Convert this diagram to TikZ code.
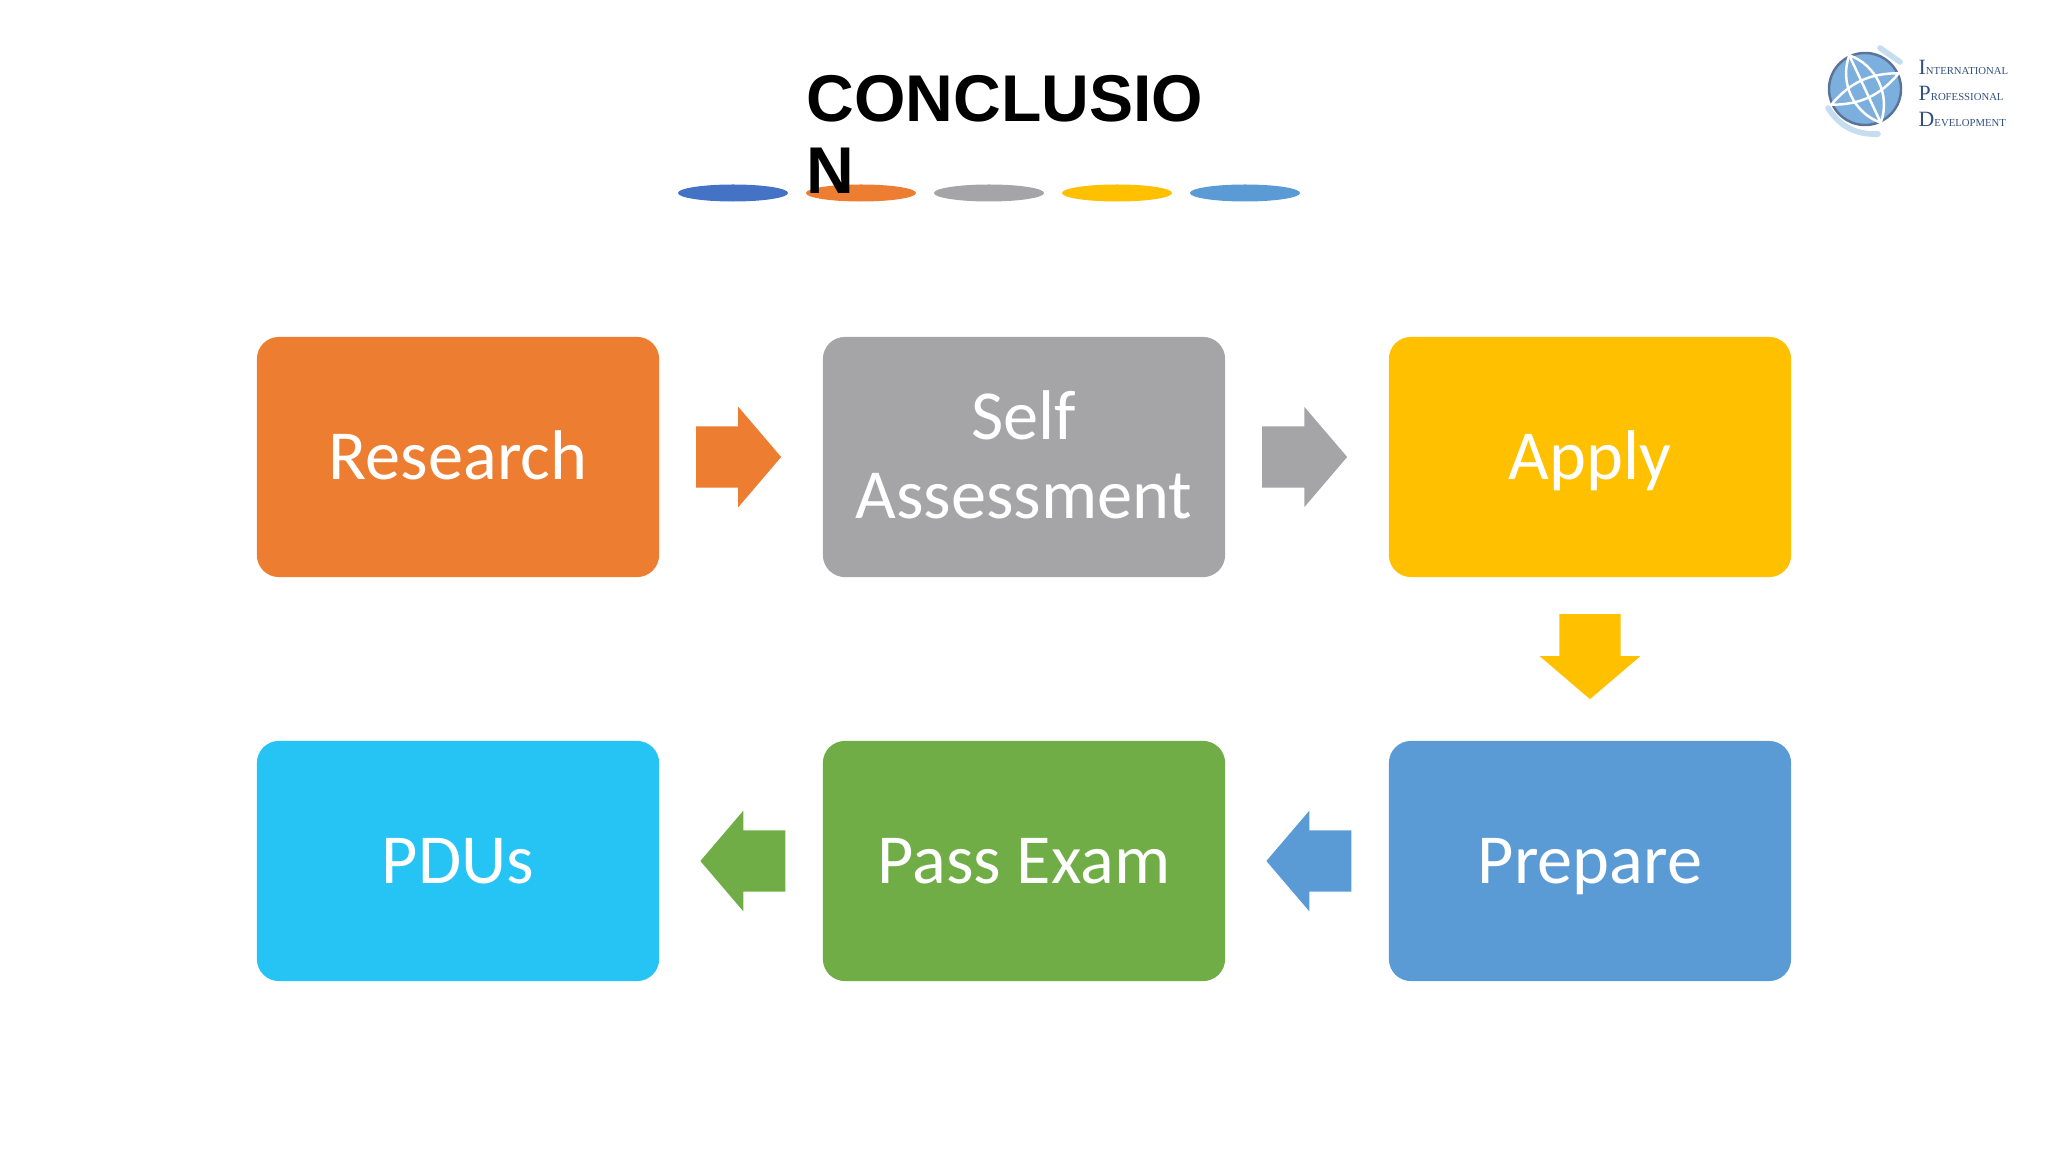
\documentclass[tikz,border=0pt]{standalone}
\usepackage{fontspec}
\setmainfont{Carlito}
\newfontfamily\titlefont{Liberation Sans}
\newfontfamily\logofont{Liberation Serif}
\usetikzlibrary{shapes.geometric,shapes.arrows}
\definecolor{cblue}{HTML}{4472C4}
\definecolor{corange}{HTML}{ED7D31}
\definecolor{cgray}{HTML}{A5A5A7}
\definecolor{cyellow}{HTML}{FFC000}
\definecolor{csky}{HTML}{5B9BD5}
\definecolor{cgreen}{HTML}{70AD47}
\definecolor{ccyan}{HTML}{25C4F5}
\definecolor{clogo}{HTML}{33507E}
\tikzset{
	stepbox/.style={rectangle,rounded corners=0.22cm,minimum width=4.02cm,minimum height=2.4cm,inner sep=0pt,text=white,align=center,text height=0.6cm,text depth=0.16cm,font=\fontsize{20}{22.2}\selectfont},
	blockarrow/.style={single arrow,minimum height=0.85cm,single arrow head extend=0.195cm,single arrow tip angle=99,single arrow head indent=0pt,inner xsep=0pt,inner ysep=0.3cm,outer sep=0pt},
	bar/.style={ellipse,minimum width=1.1cm,minimum height=0.17cm,inner sep=0pt},
	logoline/.style={anchor=base west,inner sep=0pt,text=clogo,font=\logofont\fontsize{3.05}{4}\selectfont},
	gridline/.style={white,line width=0.7pt},
	swoosh/.style={csky!35!white,line width=1.6pt},
}
\newcommand{\logocap}[1]{{\fontsize{6.2}{7}\selectfont #1}}
\begin{document}
\begin{tikzpicture}[x=0.01cm,y=-0.01cm, line join=round, line cap=round, >=stealth]
	\useasboundingbox (0,0) rectangle (2048,1152);
	% bars under the title
	\foreach \n/\x/\c in {1/733/cblue,2/861/corange,3/989/cgray,4/1117/cyellow,5/1245/csky}{
		\node[bar,fill=\c] (bar\n) at (\x,193) {};}
	\node[anchor=north west,inner sep=0pt,text width=4.3cm,align=left,font=\titlefont\bfseries\fontsize{18.8}{20.5}\selectfont] (title) at (806,75) {CONCLUSIO\\N};
	% logo
	\coordinate (swoosha) at (1828,108);
	\coordinate (swooshb) at (1878,134);
	\coordinate (swooshc) at (1900,62);
	\coordinate (swooshd) at (1880,48);
	\draw[swoosh] (swoosha) to[bend right=30] (swooshb);
	\draw[swoosh] (swooshc) -- (swooshd);
	\node[circle,minimum size=0.72cm,inner sep=0pt,rotate=25,fill=csky!80!white,draw=clogo!80!white,line width=0.7pt] (globe) at (1865,89) {};
	\draw[gridline] (globe.north) to[bend left=45] (globe.south);
	\draw[gridline] (globe.north) to[bend right=45] (globe.south);
	\draw[gridline] (globe.north) -- (globe.south);
	\draw[gridline] (globe.west) to[bend left=25] (globe.east);
	\draw[gridline] (globe.west) to[bend right=25] (globe.east);
	\node[logoline] (logoi) at (1918,75) {\logocap{I}NTERNATIONAL};
	\node[logoline] (logop) at (1918,101) {\logocap{P}ROFESSIONAL};
	\node[logoline] (logod) at (1918,127) {\logocap{D}EVELOPMENT};
	% boxes
	\node[stepbox,fill=corange] (research) at (458,457) {Research};
	\node[stepbox,fill=cgray,text height=1.38cm] (selfassess) at (1024,457) {Self\\Assessment};
	\node[stepbox,fill=cyellow] (apply) at (1590,457) {Apply};
	\node[stepbox,fill=csky] (prepare) at (1590,861) {Prepare};
	\node[stepbox,fill=cgreen] (passexam) at (1024,861) {Pass Exam};
	\node[stepbox,fill=ccyan] (pdus) at (458,861) {PDUs};
	% arrows between boxes
	\node[blockarrow,fill=corange] (arrowa) at (725.5,457) {};
	\node[blockarrow,fill=cgray] (arrowb) at (1291.5,457) {};
	\node[blockarrow,fill=cyellow,rotate=-90] (arrowc) at (1590,643.5) {};
	\node[blockarrow,fill=csky,rotate=180] (arrowd) at (1322,861) {};
	\node[blockarrow,fill=cgreen,rotate=180] (arrowe) at (756,861) {};
\end{tikzpicture}
\end{document}
